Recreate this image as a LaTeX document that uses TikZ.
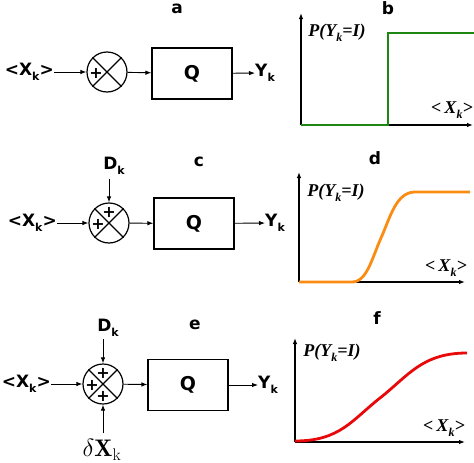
\documentclass[tikz,border=0pt]{standalone}
\usepackage{fontspec}
\setsansfont{DejaVu Sans}
\newfontfamily\tnr{Liberation Serif}
\usetikzlibrary{arrows.meta}
\definecolor{stepgreen}{RGB}{30,135,20}
\definecolor{sigorange}{RGB}{250,140,20}
\definecolor{sigred}{RGB}{232,10,10}
\begin{document}
\begin{tikzpicture}[x=1pt,y=-1pt,
  lbl/.style={font=\sffamily\bfseries\fontsize{17}{17}\selectfont, inner sep=0pt},
  panel/.style={font=\sffamily\bfseries\fontsize{17}{17}\selectfont, inner sep=0pt},
  qbox/.style={draw, line width=1.2pt, minimum width=80pt, minimum height=51pt, inner sep=0pt,
     font=\sffamily\bfseries\fontsize{19}{19}\selectfont},
  sumnode/.style={draw, circle, line width=1.2pt, minimum size=40pt, inner sep=0pt},
  plus/.style={font=\sffamily\bfseries\fontsize{16}{16}\selectfont, inner sep=0pt},
  conn/.style={line width=0.9pt, -{Latex[length=6pt,width=4.5pt]}},
  axis/.style={line width=1.1pt, -{Latex[length=6pt,width=4.5pt]}},
  plab/.style={font=\tnr\bfseries\itshape\fontsize{18}{18}\selectfont, inner sep=0pt},
  curve/.style={line width=2.8pt},
]
\useasboundingbox (0,0) rectangle (474,463);
\newcommand{\xk}{{<}X\raisebox{-0.28em}{\fontsize{11}{11}\selectfont k}{>}}
\newcommand{\yk}{Y\raisebox{-0.28em}{\fontsize{11}{11}\selectfont k}}
\newcommand{\dk}{D\raisebox{-0.28em}{\fontsize{11}{11}\selectfont k}}
\newcommand{\pyk}{P(Y\raisebox{-0.25em}{\fontsize{12}{12}\selectfont k}=I)}
\newcommand{\pxk}{{<}\,X\raisebox{-0.25em}{\fontsize{12}{12}\selectfont k}{>}}

% ---------- row a ----------
\node[panel] (la) at (177,9) {a};
\node[lbl, anchor=east] (xa) at (54,72) {\xk};
\node[sumnode] (sa) at (107,72) {};
\draw[line width=1.2pt] (sa.45) -- (sa.225) (sa.135) -- (sa.315);
\node[plus] (pa1) at (96,73) {+};
\node[qbox] (qa) at (192,73.5) {Q};
\node[lbl, anchor=west] (ya) at (255,73) {\yk};
\draw[conn] (xa) -- (sa);
\draw[conn] (sa) -- (qa);
\draw[conn] (qa) -- (ya);

% ---------- plot b ----------
\node[panel] (lb) at (388,8) {b};
\coordinate (ob) at (301,125);
\coordinate (yb) at (301,13);
\coordinate (xb) at (473,125);
\draw[axis] (ob) -- (yb);
\draw[axis] (ob) -- (xb);
\draw[curve, stepgreen] (ob) -- (388,125) -- (388,33) -- (474,33);
\node[plab] (pb) at (337,33) {\pyk};
\node[plab] (xlb) at (452,110) {\pxk};

% ---------- row c ----------
\node[panel] (lc) at (199,162) {c};
\node[lbl, anchor=east] (xc) at (57,223) {\xk};
\node[sumnode] (sc) at (109,223) {};
\draw[line width=1.2pt] (sc.45) -- (sc.225) (sc.135) -- (sc.315);
\node[plus] (pc1) at (98,224) {+};
\node[plus] (pc2) at (109,212) {+};
\node[lbl] (dc) at (114,166) {\dk};
\coordinate (dca) at (109,179);
\node[qbox] (qc) at (194,223.5) {Q};
\node[lbl, anchor=west] (yc) at (265,223) {\yk};
\draw[conn] (xc) -- (sc);
\draw[conn] (dca) -- (sc.north);
\draw[conn] (sc) -- (qc);
\draw[conn] (qc) -- (yc);

% ---------- plot d ----------
\node[panel] (ld) at (375,158) {d};
\coordinate (od) at (299,282);
\draw[axis] (od) -- (299,172);
\draw[axis] (od) -- (465,282);
\draw[curve, sigorange] (od) -- (352,282) .. controls (367,282) and (372,258) .. (381,238)
   .. controls (390,218) and (396,192) .. (415,192) -- (470,192);
\node[plab] (pd) at (336,193) {\pyk};
\node[plab] (xld) at (446,268) {\pxk};

% ---------- row e ----------
\node[panel] (le) at (195,325) {e};
\node[lbl, anchor=east] (xe) at (51,384) {\xk};
\node[sumnode] (se) at (103,384) {};
\draw[line width=1.2pt] (se.45) -- (se.225) (se.135) -- (se.315);
\node[plus] (pe1) at (92,385) {+};
\node[plus] (pe2) at (103,373) {+};
\node[plus] (pe3) at (103,396) {+};
\node[lbl] (de) at (108,328) {\dk};
\coordinate (dea) at (103,339);
\node[inner sep=0pt, font=\fontsize{24}{24}\selectfont] (dx) at (102,450) {$\delta\mathbf{X}_{\mathrm{k}}$};
\coordinate (dxa) at (103,433);
\node[qbox] (qe) at (188,385) {Q};
\node[lbl, anchor=west] (ye) at (258,385) {\yk};
\draw[conn] (xe) -- (se);
\draw[conn] (dea) -- (se.north);
\draw[conn] (dxa) -- (se.south);
\draw[conn] (se) -- (qe);
\draw[conn] (qe) -- (ye);

% ---------- plot f ----------
\node[panel] (lf) at (377,318) {f};
\coordinate (of) at (295,442);
\draw[axis] (of) -- (295,338);
\draw[axis] (of) -- (465,442);
\draw[curve, sigred] (295,441) .. controls (340,441) and (352,420) .. (380,398)
   .. controls (408,376) and (422,353) .. (467,353);
\node[plab] (pf) at (332,353) {\pyk};
\node[plab] (xlf) at (444,428) {\pxk};
\end{tikzpicture}
\end{document}
